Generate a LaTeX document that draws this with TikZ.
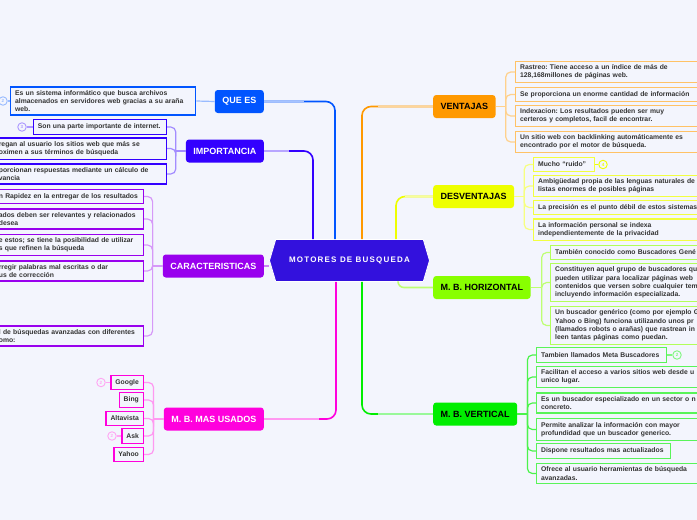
\documentclass[tikz,border=0pt]{standalone}
\usepackage{fontspec}
\setmainfont{Liberation Sans}
\newfontfamily\hubfont{Liberation Sans}[LetterSpace=15]
\usetikzlibrary{shapes.symbols}
\frenchspacing
\definecolor{bg}{HTML}{F3F5FD}
\definecolor{hubc}{HTML}{3311DD}
\definecolor{qc}{HTML}{0055FF}
\definecolor{ic}{HTML}{3300FF}
\definecolor{cc}{HTML}{9900EE}
\definecolor{mc}{HTML}{FF00DD}
\definecolor{vc}{HTML}{FF9900}
\definecolor{dc}{HTML}{EEFF00}
\definecolor{hc}{HTML}{88FF00}
\definecolor{tc}{HTML}{00EE00}
\definecolor{ink}{HTML}{333333}
\tikzset{
	branch/.style 2 args={rounded corners=3pt,fill=#1,text=#2,font=\fontsize{9}{10}\selectfont\bfseries,minimum height=23pt,inner xsep=7.5pt,inner ysep=0pt},
	leaf/.style={draw=#1,line width=1.3pt,fill=bg,text=ink,font=\fontsize{6.8}{8.3}\selectfont\bfseries,align=left,inner xsep=4.5pt,inner ysep=3.3pt,minimum height=14.5pt},
	trunk/.style={draw=#1,line width=1.6pt,rounded corners=9pt},
	brk/.style={draw=#1,line width=1.2pt,rounded corners=5pt},
	badge/.style={circle,draw=#1,line width=0.9pt,fill=bg,text=#1,inner sep=0pt,minimum size=8.5pt,font=\fontsize{4.5}{5}\selectfont\bfseries}
}
\begin{document}
\begin{tikzpicture}[x=1pt,y=-1pt]
	\fill[bg] (0,0) rectangle (697,520);
	\useasboundingbox (0,0) rectangle (697,520);

	\node[shape=signal,signal to=west and east,signal pointer angle=147,fill=hubc,draw=white,line width=0.8pt,minimum width=160pt,minimum height=42pt,inner sep=0pt,text=white,font=\hubfont\fontsize{8}{9}\selectfont\bfseries] (motores) at (349.5,260.5) {MOTORES DE BUSQUEDA};

	\node[branch={qc}{white},anchor=east] (quees) at (264,101.5) {QUE ES};
	\node[branch={ic}{white},anchor=east] (impor) at (264,151) {IMPORTANCIA};
	\node[branch={cc}{white},anchor=east] (carac) at (264,266) {CARACTERISTICAS};
	\node[branch={mc}{white},anchor=east] (usados) at (264,419) {M. B. MAS USADOS};
	\node[branch={vc}{black},anchor=west] (ventajas) at (433,106.5) {VENTAJAS};
	\node[branch={dc}{black},anchor=west] (desv) at (433,196.5) {DESVENTAJAS};
	\node[branch={hc}{black},anchor=west] (horiz) at (433,287.5) {M. B. HORIZONTAL};
	\node[branch={tc}{black},anchor=west] (vert) at (433,414) {M. B. VERTICAL};

	\draw[trunk=qc] (quees.east) -| ([xshift=-14.5pt]motores.north);
	\draw[trunk=qc!35] (quees.east) -- ++(40,0);
	\draw[trunk=ic] (impor.east) -| ([xshift=-36.5pt]motores.north);
	\draw[trunk=ic!35] (impor.east) -- ++(25,0);
	\draw[trunk=vc] (ventajas.west) -| ([xshift=12.5pt]motores.north);
	\draw[trunk=vc!40] (ventajas.west) -- ++(-55,0);
	\draw[trunk=dc] (desv.west) -| ([xshift=46.5pt]motores.north);
	\draw[trunk=dc!40] (desv.west) -- ++(-28,0);
	\draw[trunk=hc!55,rounded corners=6pt] ([xshift=48.5pt]motores.south) |- (horiz.west);
	\draw[trunk=tc] ([xshift=12.5pt]motores.south) |- (vert.west);
	\draw[trunk=tc!40] (vert.west) -- ++(-55,0);
	\draw[trunk=mc] ([xshift=-13.5pt]motores.south) |- (usados.east);
	\draw[trunk=mc!40] (usados.east) -- ++(55,0);
	\draw[trunk=cc!50] (carac.east) -- (carac.east -| motores.west);

	\node[leaf=qc,text width=176pt,anchor=west] (qs1) at (10,101) {Es un sistema informático que busca archivos\\almacenados en servidores web gracias a su araña\\web.};
	\draw[brk=qc!40] (quees.west) -- (qs1.east);
	\node[badge=qc!40] (qsn) at (3,101) {2};
	\draw[brk=qc!40] (qsn) -- (qs1.west);

	\node[leaf=ic,text width=124pt,anchor=east] (imp1) at (167,127) {Son una parte importante de internet.};
	\node[leaf=ic,text width=163pt,anchor=east] (imp2) at (167,148.5) {regan al usuario los sitios web que más se\\oximen a sus términos de búsqueda};
	\node[leaf=ic,text width=163pt,anchor=east] (imp3) at (167,174) {porcionan respuestas mediante un cálculo de\\vancia};
	\draw[brk=ic!45] (impor.west) -- ++(-10,0);
	\foreach \lf in {imp1,imp2,imp3}
		\draw[brk=ic!45] ([xshift=-10pt]impor.west) |- (\lf.east);
	\node[badge=ic!40] (impn) at (22,127) {3};
	\draw[brk=ic!40] (impn) -- (imp1.west);

	\node[leaf=cc,text width=140pt,anchor=east] (car1) at (144,196.5) {n Rapidez en la entregar de los resultados};
	\node[leaf=cc,text width=140pt,anchor=east] (car2) at (144,219) {ados deben ser relevantes y relacionados\\desea};
	\node[leaf=cc,text width=140pt,anchor=east] (car3) at (144,245) {e estos; se tiene la posibilidad de utilizar\\s que refinen la búsqueda};
	\node[leaf=cc,text width=140pt,anchor=east] (car4) at (144,271) {rregir palabras mal escritas o dar\\us de corrección};
	\node[leaf=cc,text width=140pt,anchor=east] (car5) at (144,336) {l de búsquedas avanzadas con diferentes\\omo:};
	\draw[brk=cc!40] (carac.west) -- ++(-10,0);
	\foreach \lf in {car1,car2,car3,car4,car5}
		\draw[brk=cc!40] ([xshift=-10pt]carac.west) |- (\lf.east);

	\node[leaf=mc,anchor=east] (google) at (144,382.5) {Google};
	\node[leaf=mc,anchor=east] (bing) at (144,400) {Bing};
	\node[leaf=mc,anchor=east] (altavista) at (144,418.5) {Altavista};
	\node[leaf=mc,anchor=east] (ask) at (144,436) {Ask};
	\node[leaf=mc,anchor=east] (yahoo) at (144,454.5) {Yahoo};
	\draw[brk=mc!40] (usados.west) -- ++(-10,0);
	\foreach \lf in {google,bing,altavista,ask,yahoo}
		\draw[brk=mc!40] ([xshift=-10pt]usados.west) |- (\lf.east);
	\node[badge=mc!35] (googlen) at (101,382.5) {2};
	\draw[brk=mc!35] (googlen) -- (google.west);
	\node[badge=mc!35] (askn) at (112,436) {2};
	\draw[brk=mc!35] (askn) -- (ask.west);

	\node[leaf=vc!60,text width=173pt,anchor=west] (ven1) at (515,72) {Rastreo: Tiene acceso a un índice de más de\\128,168millones de páginas web.};
	\node[leaf=vc!60,text width=173pt,anchor=west] (ven2) at (515,94.5) {Se proporciona un enorme cantidad de información};
	\node[leaf=vc!60,text width=173pt,anchor=west] (ven3) at (515,116) {Indexacion: Los resultados pueden ser muy\\certeros y completos, facil de encontrar.};
	\node[leaf=vc!60,text width=173pt,anchor=west] (ven4) at (515,142) {Un sitio web con backlinking automáticamente es\\encontrado por el motor de búsqueda.};
	\draw[brk=vc!45] (ventajas.east) -- ++(10,0);
	\foreach \lf in {ven1,ven2,ven3,ven4}
		\draw[brk=vc!45] ([xshift=10pt]ventajas.east) |- (\lf.west);

	\node[leaf=dc!75,text width=52pt,anchor=west] (des1) at (533,164.5) {Mucho “ruido”};
	\node[leaf=dc!75,text width=175pt,anchor=west] (des2) at (533,186) {Ambigüedad propia de las lenguas naturales de\\listas enormes de posibles páginas};
	\node[leaf=dc!75,text width=175pt,anchor=west] (des3) at (533,207.5) {La precisión es el punto débil de estos sistemas};
	\node[leaf=dc!75,text width=175pt,anchor=west] (des4) at (533,229.5) {La información personal se indexa\\independientemente de la privacidad};
	\draw[brk=dc!50] (desv.east) -- ++(10,0);
	\foreach \lf in {des1,des2,des3,des4}
		\draw[brk=dc!50] ([xshift=10pt]desv.east) |- (\lf.west);
	\node[badge=dc] (des1n) at (603,164.5) {4};
	\draw[brk=dc] (des1.east) -- (des1n);

	\node[leaf=hc!65,text width=170pt,anchor=west] (hor1) at (550,252.5) {También conocido como Buscadores Gené};
	\node[leaf=hc!65,text width=170pt,anchor=west] (hor2) at (550,282.5) {Constituyen aquel grupo de buscadores qu\\pueden utilizar para localizar páginas web\\contenidos que versen sobre cualquier tem\\incluyendo información especializada.};
	\node[leaf=hc!65,text width=170pt,anchor=west] (hor3) at (550,325.5) {Un buscador genérico (como por ejemplo G\\Yahoo o Bing) funciona utilizando unos pr\\(llamados robots o arañas) que rastrean in\\leen tantas páginas como puedan.};
	\draw[brk=hc!55] (horiz.east) -- ++(11,0);
	\foreach \lf in {hor1,hor2,hor3}
		\draw[brk=hc!55] ([xshift=11pt]horiz.east) |- (\lf.west);

	\node[leaf=tc!65,text width=121pt,anchor=west] (ver1) at (536,355) {Tambien llamados Meta Buscadores};
	\node[leaf=tc!65,text width=175pt,anchor=west] (ver2) at (536,377) {Facilitan el acceso a varios sitios web desde u\\unico lugar.};
	\node[leaf=tc!65,text width=175pt,anchor=west] (ver3) at (536,403) {Es un buscador especializado en un sector o n\\concreto.};
	\node[leaf=tc!65,text width=175pt,anchor=west] (ver4) at (536,429.5) {Permite analizar la información con mayor\\profundidad que un buscador generico.};
	\node[leaf=tc!65,text width=125pt,anchor=west] (ver5) at (536,451) {Dispone resultados mas actualizados};
	\node[leaf=tc!65,text width=175pt,anchor=west] (ver6) at (536,473.5) {Ofrece al usuario herramientas de búsqueda\\avanzadas.};
	\draw[brk=tc!70] (vert.east) -- ++(10,0);
	\foreach \lf in {ver1,ver2,ver3,ver4,ver5,ver6}
		\draw[brk=tc!70] ([xshift=10pt]vert.east) |- (\lf.west);
	\node[badge=tc!50] (ver1n) at (677,355) {2};
	\draw[brk=tc!50] (ver1.east) -- (ver1n);
\end{tikzpicture}
\end{document}
